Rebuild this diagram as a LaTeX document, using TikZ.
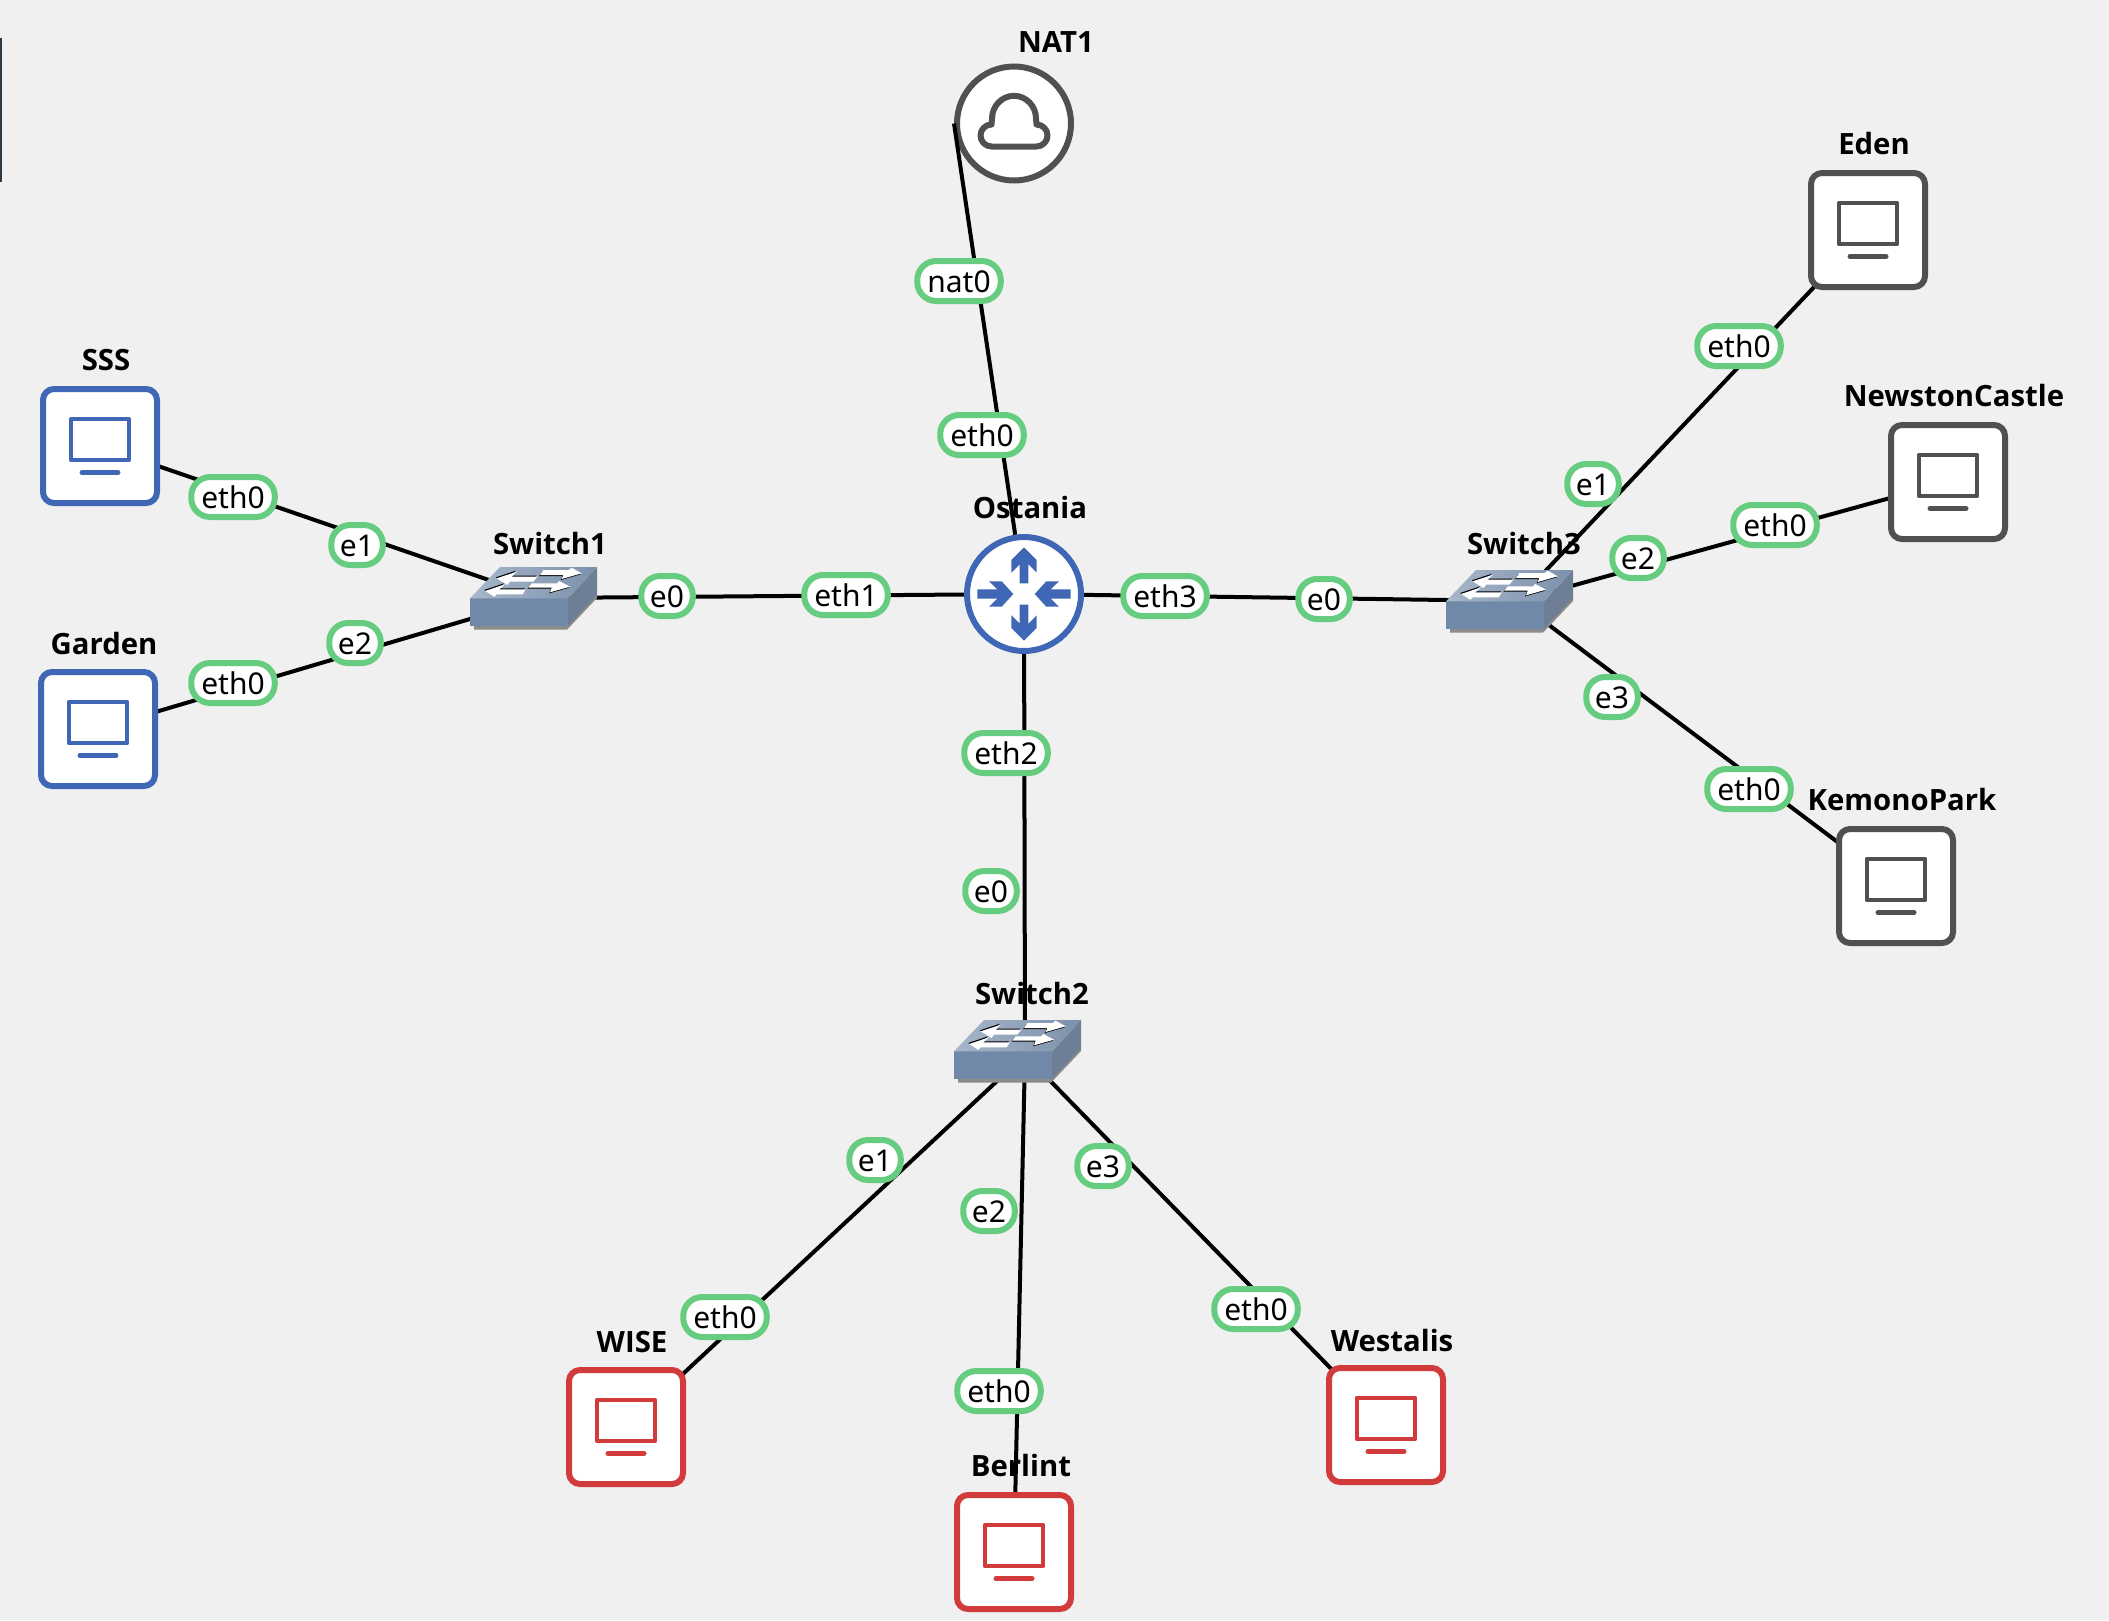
\documentclass[tikz,border=0pt]{standalone}
\usepackage{fontspec}
\setmainfont{Noto Sans}
\newfontfamily\devfont{Open Sans}
\pgfdeclarelayer{bg}\pgfdeclarelayer{fg}
\pgfsetlayers{bg,main,fg}
\definecolor{pageback}{HTML}{F0F0F0}
\definecolor{barcol}{HTML}{2B3A42}
\definecolor{hblue}{HTML}{3F67B5}
\definecolor{hred}{HTML}{D13B3B}
\definecolor{hgray}{HTML}{505050}
\definecolor{lblgreen}{HTML}{66CC7F}
\definecolor{swfront}{HTML}{7189A8}
\definecolor{swside}{HTML}{6E7F95}
\definecolor{swshadow}{HTML}{8C8C8C}
\definecolor{swlight}{HTML}{A8B7CA}
\definecolor{swdark}{HTML}{7B90AB}
\tikzset{
 hostbox/.style={draw=#1,fill=white,line width=6pt,rounded corners=11pt,minimum size=114pt,inner sep=0pt,shape=rectangle},
 roundbox/.style={draw=#1,fill=white,line width=6pt,circle,minimum size=114pt,inner sep=0pt},
 swbox/.style={shape=rectangle,minimum width=128pt,minimum height=64pt,inner sep=0pt},
 devlabel/.style={font=\devfont\fontsize{29.3}{30}\selectfont\bfseries,inner sep=0pt,text=black},
 iflabel/.style={draw=lblgreen,fill=white,line width=6pt,rounded corners=19pt,minimum height=40pt,inner sep=0pt,font=\fontsize{30}{30}\selectfont,text=black,text height=22pt,text depth=0pt},
 ifshort/.style={iflabel,minimum width=51.5pt},
 iflong/.style={iflabel,minimum width=83.5pt},
 wire/.style={draw=black,line width=4pt},
 monitor/.pic={
  \draw[#1,line width=4.5pt,line join=round] (-29,-27) rectangle (29,14);
  \draw[#1,line width=5pt,line cap=round] (-18,26.5) -- (18,26.5);
 },
 routericon/.pic={
  \fill[#1] (0,-46.7)--(12.7,-34)--(12.7,-21.3)--(4.3,-29.7)--(4.3,-10.7)--(-4.3,-10.7)--(-4.3,-29.7)--(-12.7,-21.3)--(-12.7,-34)--cycle;
  \fill[#1] (0,46.7)--(12.7,34)--(12.7,21.3)--(4.3,29.7)--(4.3,10.7)--(-4.3,10.7)--(-4.3,29.7)--(-12.7,21.3)--(-12.7,34)--cycle;
  \fill[#1] (-10.7,0)--(-22.3,12.7)--(-35,12.7)--(-26.7,4.7)--(-46.7,4.7)--(-46.7,-4.7)--(-26.7,-4.7)--(-35,-12.7)--(-22.3,-12.7)--cycle;
  \fill[#1] (10.7,0)--(22.3,12.7)--(35,12.7)--(26.7,4.7)--(46.7,4.7)--(46.7,-4.7)--(26.7,-4.7)--(35,-12.7)--(22.3,-12.7)--cycle;
 },
 cloudicon/.pic={
  \draw[#1,line width=6pt,line join=round]
   (-22.5,23) .. controls (-28.6,23) and (-33.5,18) .. (-33.5,12)
   .. controls (-33.5,6) and (-28.6,1) .. (-22.5,1)
   -- (-22,-5) .. controls (-22,-17.5) and (-12,-27.7) .. (0,-27.7)
   .. controls (12,-27.7) and (22,-17.5) .. (22,-5)
   -- (22.5,1) .. controls (28.6,1) and (33.5,6) .. (33.5,12)
   .. controls (33.5,18) and (28.6,23) .. (22.5,23) -- cycle;
 },
 switchicon/.pic={
  \fill[swshadow] (-60,28)--(-60,32.7)--(33,32.7)--(63,1)--(63,-3)--(34,28)--cycle;
  \fill[swfront] (-64,1.3) rectangle (34,28.7);
  \fill[swside] (34,1.3)--(63,-30)--(63,-2)--(34,28.7)--cycle;
  \shade[left color=swlight,right color=swdark] (-64,1.3)--(-34,-30)--(63,-30)--(34,1.3)--cycle;
  \fill[black,shift={(-.8,-1)}] (-37.3,-18.7)--(-17.3,-25.3)--(-22.3,-20.3)--(3.3,-20.3)--(-.7,-15.3)--(-24,-15.3)--(-26.7,-12)--cycle;
  \fill[white] (-37.3,-18.7)--(-17.3,-25.3)--(-22.3,-20.3)--(3.3,-20.3)--(-.7,-15.3)--(-24,-15.3)--(-26.7,-12)--cycle;
  \fill[black,shift={(-.8,1)}] (47.7,-23.7)--(37.7,-29.3)--(34.3,-27)--(9.3,-27)--(6,-22)--(29.3,-22)--(27.7,-18)--cycle;
  \fill[white] (47.7,-23.7)--(37.7,-29.3)--(34.3,-27)--(9.3,-27)--(6,-22)--(29.3,-22)--(27.7,-18)--cycle;
  \fill[black,shift={(-.8,-1)}] (-49,-6)--(-29,-12.7)--(-34.7,-7.7)--(-8.3,-7.7)--(-11.3,-2.7)--(-37.3,-2.7)--(-39.7,-.3)--cycle;
  \fill[white] (-49,-6)--(-29,-12.7)--(-34.7,-7.7)--(-8.3,-7.7)--(-11.3,-2.7)--(-37.3,-2.7)--(-39.7,-.3)--cycle;
  \fill[black,shift={(-.8,1)}] (36,-10.3)--(25.3,-16)--(22.7,-13.7)--(-2.3,-13.7)--(-5.7,-9.3)--(17.7,-9.3)--(16,-4.7)--cycle;
  \fill[white] (36,-10.3)--(25.3,-16)--(22.7,-13.7)--(-2.3,-13.7)--(-5.7,-9.3)--(17.7,-9.3)--(16,-4.7)--cycle;
 },
}
\begin{document}
\begin{tikzpicture}[x=1pt,y=-1pt]
\useasboundingbox (0,0) rectangle (2109,1620);
\begin{pgfonlayer}{bg}
\fill[pageback] (0,0) rectangle (2109,1620);
\fill[barcol] (0,38) rectangle (2,182);
\end{pgfonlayer}
% devices
\node[hostbox=hblue] (SSS) at (100,446) {};
\node[hostbox=hblue] (Garden) at (98,729) {};
\node[hostbox=hgray] (Eden) at (1868,230) {};
\node[hostbox=hgray] (Newston) at (1948,482) {};
\node[hostbox=hgray] (Kemono) at (1896,886) {};
\node[hostbox=hred] (WISE) at (626,1427) {};
\node[hostbox=hred] (Westalis) at (1386,1425) {};
\node[hostbox=hred] (Berlint) at (1014,1552) {};
\node[roundbox=hblue] (Ostania) at (1024,594) {};
\node[roundbox=hgray] (NAT) at (1014,123.5) {};
\node[swbox] (Sw1) at (541,598) {};
\node[swbox] (Sw2) at (1025,1055) {};
\node[swbox] (Sw3) at (1517,601) {};
% icons
\pic at (SSS) {monitor=hblue};
\pic at (Garden) {monitor=hblue};
\pic at (Eden) {monitor=hgray};
\pic at (Newston) {monitor=hgray};
\pic at (Kemono) {monitor=hgray};
\pic at (WISE) {monitor=hred};
\pic at (Westalis) {monitor=hred};
\pic at (Berlint) {monitor=hred};
\pic at (Ostania) {routericon=hblue};
\pic at (NAT) {cloudicon=hgray};
\pic at ([shift={(-7,-1)}]Sw1.center) {switchicon};
\pic at ([shift={(-7,-5)}]Sw2.center) {switchicon};
\pic at ([shift={(-7,-1)}]Sw3.center) {switchicon};
% links
\draw[wire] (NAT.west) -- (Ostania);
\begin{pgfonlayer}{bg}
\draw[wire] (SSS.center) -- (Sw1.center);
\draw[wire] (Garden.center) -- (Sw1.center);
\draw[wire] (Sw1.center) -- (Ostania.center);
\draw[wire] (Ostania.center) -- (Sw3.center);
\draw[wire] (Ostania.center) -- (Sw2.center);
\draw[wire] (Sw3.center) -- (Eden.center);
\draw[wire] (Sw3.center) -- (Newston.center);
\draw[wire] (Sw3.center) -- (Kemono.center);
\draw[wire] (Sw2.center) -- (WISE.center);
\draw[wire] (Sw2.center) -- (Westalis.center);
\draw[wire] (Sw2.center) -- (Berlint.center);
\end{pgfonlayer}
% interface labels
\begin{pgfonlayer}{fg}
\node[iflong] (i1) at (959,281) {nat0};
\node[iflong] (i2) at (982,435) {eth0};
\node[iflong] (i3) at (846,595) {eth1};
\node[ifshort] (i4) at (667,596) {e0};
\node[iflong] (i5) at (1165,596) {eth3};
\node[ifshort] (i6) at (1324,599) {e0};
\node[iflong] (i7) at (1006,753) {eth2};
\node[ifshort] (i8) at (991,891) {e0};
\node[ifshort] (i9) at (875,1160) {e1};
\node[ifshort] (i10) at (989,1211) {e2};
\node[ifshort] (i11) at (1103,1166) {e3};
\node[iflong] (i12) at (725,1317) {eth0};
\node[iflong] (i13) at (999,1391) {eth0};
\node[iflong] (i14) at (1256,1309) {eth0};
\node[iflong] (i15) at (233,497) {eth0};
\node[ifshort] (i16) at (357,545) {e1};
\node[ifshort] (i17) at (355,643) {e2};
\node[iflong] (i18) at (233,683) {eth0};
\node[iflong] (i19) at (1739,346) {eth0};
\node[ifshort] (i20) at (1593,484) {e1};
\node[iflong] (i21) at (1775,525) {eth0};
\node[ifshort] (i22) at (1638,558) {e2};
\node[ifshort] (i23) at (1612,697) {e3};
\node[iflong] (i24) at (1749,789) {eth0};
% device labels
\node[devlabel] (lNAT) at (1056,42) {NAT1};
\node[devlabel] (lSSS) at (106,360) {SSS};
\node[devlabel] (lGarden) at (104,644) {Garden};
\node[devlabel] (lEden) at (1874,144) {Eden};
\node[devlabel] (lNewston) at (1954,396) {NewstonCastle};
\node[devlabel] (lKemono) at (1902,799) {KemonoPark};
\node[devlabel] (lSw1) at (550,544) {Switch1};
\node[devlabel] (lSw3) at (1524,544) {Switch3};
\node[devlabel] (lSw2) at (1032,993) {Switch2};
\node[devlabel] (lOst) at (1030,508) {Ostania};
\node[devlabel] (lWISE) at (632,1342) {WISE};
\node[devlabel] (lWest) at (1392,1340) {Westalis};
\node[devlabel] (lBer) at (1021,1465) {Berlint};
\end{pgfonlayer}
\end{tikzpicture}
\end{document}
